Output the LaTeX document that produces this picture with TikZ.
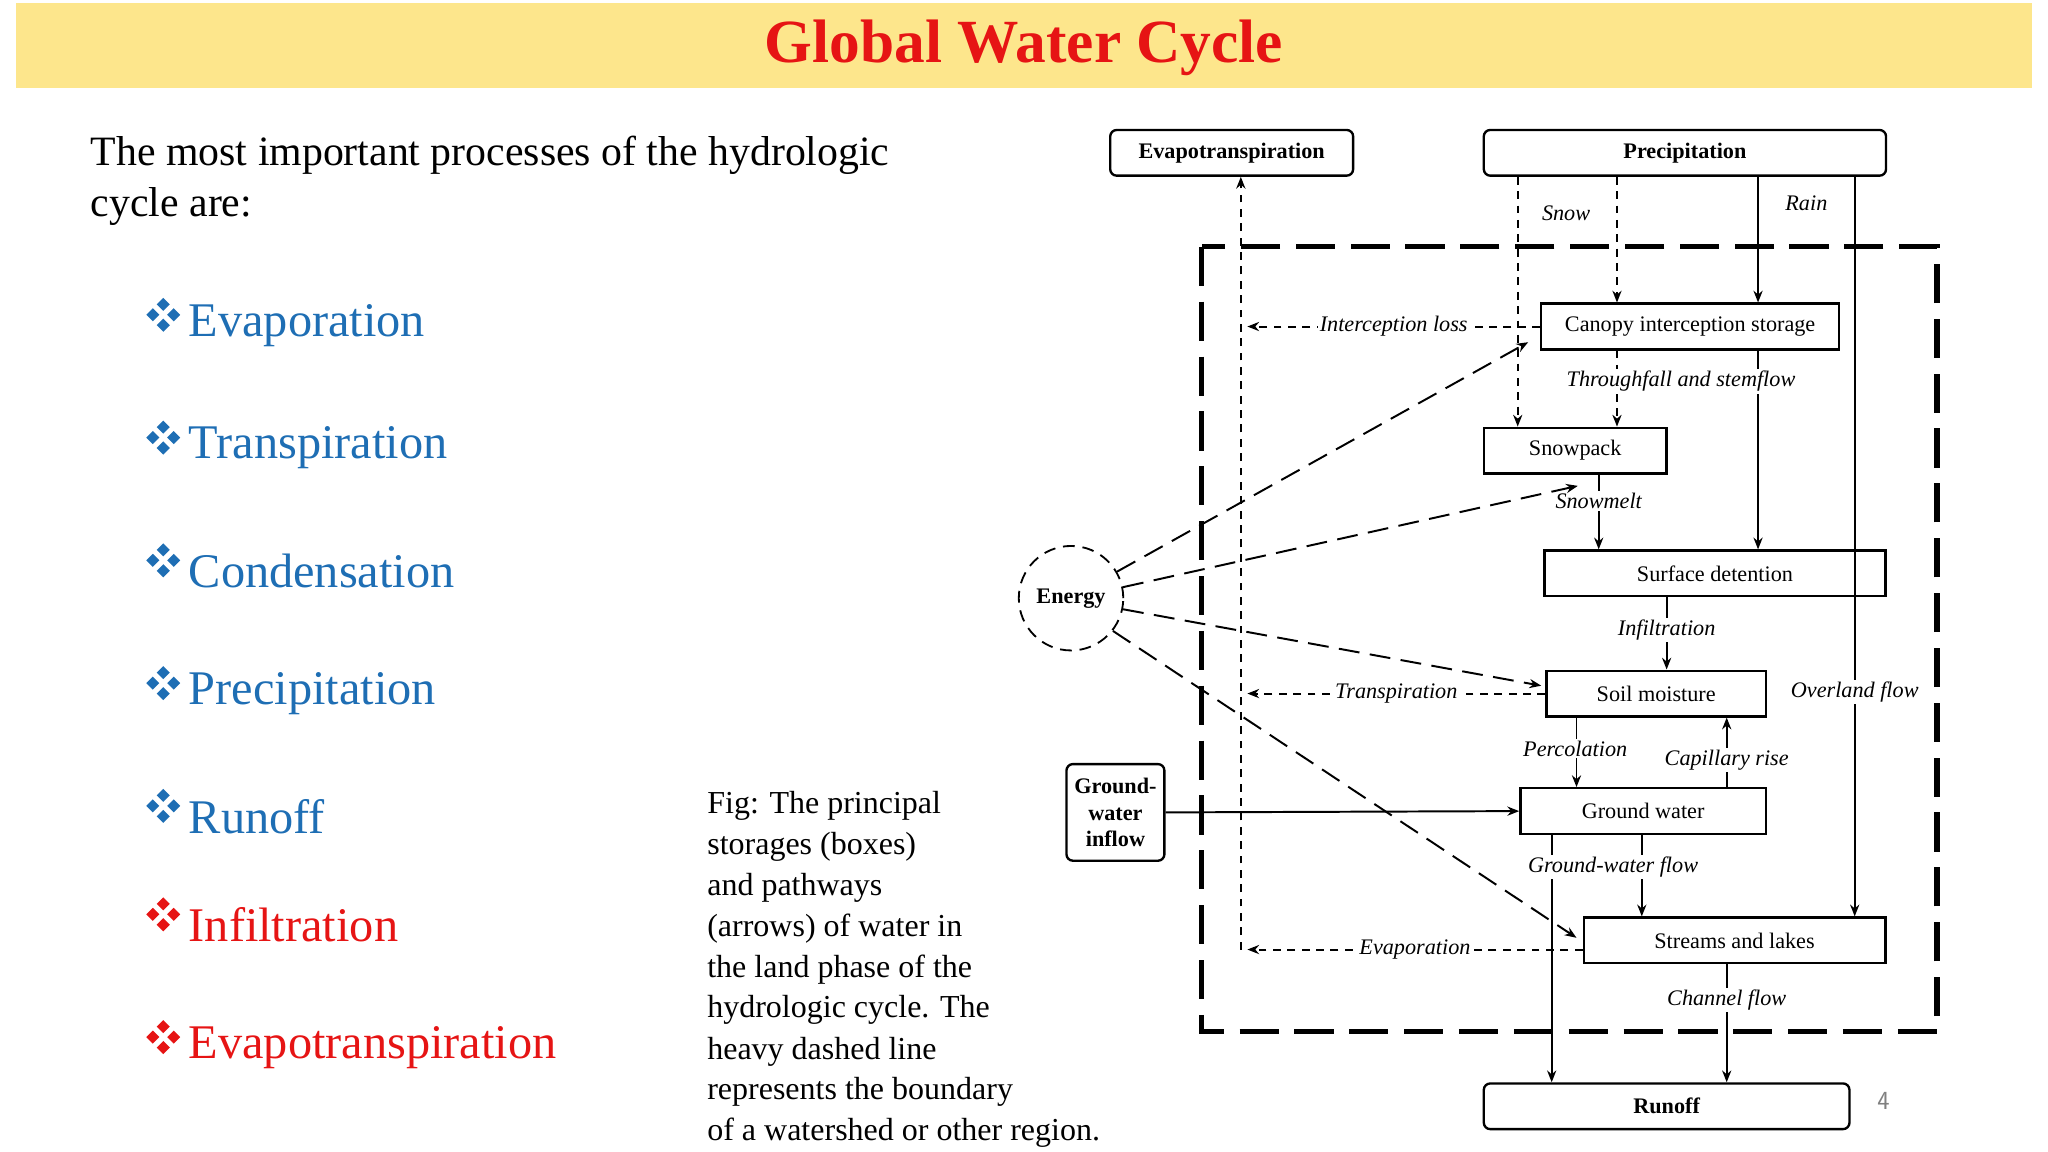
\documentclass[tikz,border=0pt]{standalone}
\usepackage{fontspec}
\setmainfont{Liberation Serif}
\usetikzlibrary{arrows.meta}
\definecolor{band}{RGB}{253,230,140}
\definecolor{tred}{RGB}{230,20,20}
\definecolor{tblue}{RGB}{30,110,180}
\begin{document}
\begin{tikzpicture}[x=1pt,y=-1pt,
 box/.style={draw,line width=1.8pt,minimum height=35pt,inner sep=0pt,font=\fontsize{17}{19}\selectfont},
 rbox/.style={box,rounded corners=5pt,font=\fontsize{17}{19}\selectfont\bfseries},
 lab/.style={font=\fontsize{17}{19}\selectfont\itshape,fill=white,inner sep=1.5pt},
 ar/.style={line width=1.5pt,-{Stealth[length=9pt,width=7pt]}},
 da/.style={ar,dash pattern=on 6pt off 5pt},
 en/.style={ar,dash pattern=on 16pt off 8pt},
 bl/.style={font=\fontsize{37}{42}\selectfont,anchor=west},
 fcap/.style={font=\fontsize{24.5}{27}\selectfont,anchor=west}]
\useasboundingbox (0,0) rectangle (1568,882);
\fill[band] (12,2) rectangle (1556,67);
\node[text=tred,font=\fontsize{47}{50}\selectfont\bfseries] (title) at (784,37) {Global Water Cycle};
\node[font=\fontsize{32}{36}\selectfont,anchor=west] (l1) at (66,119) {The most important processes of the hydrologic};
\node[font=\fontsize{32}{36}\selectfont,anchor=west] (l2) at (66,158) {cycle are:};
\newcommand{\dia}[2]{\begin{scope}[shift={(125,#1)}]\fill[#2] (0,-13)--(5,-8)--(0,-3)--(-5,-8)--cycle (0,3)--(5,8)--(0,13)--(-5,8)--cycle (-8,-5)--(-3,0)--(-8,5)--(-13,0)--cycle (8,-5)--(13,0)--(8,5)--(3,0)--cycle;\end{scope}}
\foreach \y/\t/\c in {249/Evaporation/tblue,343/Transpiration/tblue,437/Condensation/tblue,531/Precipitation/tblue,625/Runoff/tblue,708/Infiltration/tred,802/Evapotranspiration/tred}{
 \dia{\y-8}{\c}
 \node[bl,text=\c] at (141,\y) {\t};}
\foreach \y/\t in {617/{Fig: The principal},648/{storages (boxes)},680/{and pathways},711/{(arrows) of water in},742/{the land phase of the},773/{hydrologic cycle. The},805/{heavy dashed line},836/{represents the boundary},867/{of a watershed or other region.}}
 \node[fcap] at (538,\y) {\t};
\node[text=gray,font=\fontsize{20}{22}\selectfont\sffamily] (pg) at (1442,843) {4};
% boundary
\draw[line width=4pt,dash pattern=on 30pt off 12pt] (920,189) rectangle (1483,790);
% boxes
\node[rbox,minimum width=186pt] (et) at (943,117) {Evapotranspiration};
\node[rbox,minimum width=308pt] (pr) at (1290,117) {Precipitation};
\node[box,minimum width=228pt] (can) at (1294,250) {Canopy interception storage};
\node[box,minimum width=140pt] (sp) at (1206,345) {Snowpack};
\node[box,minimum width=261pt] (sd) at (1313,439) {Surface detention};
\node[box,minimum width=168pt] (sm) at (1268,531) {Soil moisture};
\node[box,minimum width=188pt] (gw) at (1258,621) {Ground water};
\node[box,minimum width=231pt] (sl) at (1328,720) {Streams and lakes};
\node[rbox,minimum width=280pt] (ro) at (1276,847) {Runoff};
\node[draw,line width=1.8pt,rounded corners=5pt,minimum width=75pt,minimum height=74pt,align=center,inner sep=0pt,font=\fontsize{17}{20}\selectfont\bfseries] (gi) at (854,622) {Ground-\\water\\inflow};
\node[draw,circle,dash pattern=on 9pt off 6pt,line width=1.4pt,minimum size=80pt,inner sep=0pt,font=\fontsize{17}{19}\selectfont\bfseries] (en) at (820,458) {Energy};
% evapotranspiration collector
\coordinate (eb) at (950,727);
\draw[da] (eb) -- (et.south -| eb);
\draw[da] (can.west) -- (955,250) node[lab,pos=0.5] {Interception loss};
\draw[da] (sm.west) -- (955,531) node[lab,pos=0.5] {Transpiration};
\draw[da] (sl.west|-eb) -- (955,727) node[lab,pos=0.5] {Evaporation};
% precipitation
\draw[da] (pr.south -| 1162,0) -- (sp.north -| 1162,0);
\draw[da] (pr.south -| 1238,0) -- (can.north -| 1238,0);
\node[lab] (snow) at (1199,163) {Snow};
\draw[ar] (pr.south -| 1346,0) -- (can.north -| 1346,0);
\draw[ar] (pr.south -| 1420,0) -- (sl.north -| 1420,0);
\node[lab] (rain) at (1383,156) {Rain};
\draw[da] (can.south -| 1238,0) -- (sp.north -| 1238,0);
\draw[ar] (can.south -| 1346,0) -- (sd.north -| 1346,0);
\node[lab] (tf) at (1287,292) {Throughfall and stemflow};
\draw[ar] (sp.south -| 1224,0) -- (sd.north -| 1224,0) node[lab,pos=0.35] {Snowmelt};
\draw[ar] (sd.south -| 1276,0) -- (sm.north -| 1276,0) node[lab,pos=0.45] {Infiltration};
\node[lab] (of) at (1420,530) {Overland flow};
\draw[ar] (sm.south -| 1207,0) -- (gw.north -| 1207,0);
\node[lab] (perc) at (1206,573) {Percolation};
\draw[ar] (gw.north -| 1322,0) -- (sm.south -| 1322,0);
\node[lab] (caprise) at (1322,582) {Capillary rise};
\draw[ar] (gw.south -| 1257,0) -- (sl.north -| 1257,0);
\draw[ar] (gw.south -| 1188,0) -- (ro.north -| 1188,0);
\node[lab] (gwf) at (1235,664) {Ground-water flow};
\draw[ar] (sl.south -| 1322,0) -- (ro.north -| 1322,0) node[lab,pos=0.3] {Channel flow};
\draw[ar] (gi.east) -- (gw.west);
% energy
\draw[en] (en.30) -- (1170,262);
\draw[en] (en.12) -- (1208,372);
\draw[en] (en.-12) -- (1180,525);
\draw[en] (en.-38) -- (1207,718);
\end{tikzpicture}
\end{document}
